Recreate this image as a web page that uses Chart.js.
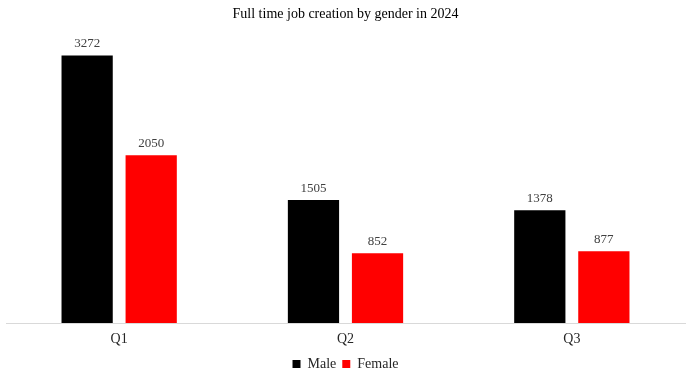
<!DOCTYPE html>
<html>
<head>
<meta charset="utf-8">
<script src="https://cdn.jsdelivr.net/npm/chart.js@4/dist/chart.umd.min.js"></script>
<style>
  html, body { margin: 0; padding: 0; background: #fff; }
  #wrap { width: 691px; height: 375px; }
</style>
</head>
<body>
<div id="wrap"><canvas id="myChart"></canvas></div>
<script>
  const quarters = ['Q1', 'Q2', 'Q3']
  const male = [3272, 1505, 1378]
  const female = [2050, 852, 877]

  const serif = '"Liberation Serif", "DejaVu Serif", serif'

  // values drawn above each bar
  const barLabels = {
    id: 'barLabels',
    afterDatasetsDraw (chart) {
      const ctx = chart.ctx
      ctx.save()
      ctx.font = '13px ' + serif
      ctx.fillStyle = '#404040'
      ctx.textAlign = 'center'
      ctx.textBaseline = 'bottom'
      chart.data.datasets.forEach((ds, i) => {
        chart.getDatasetMeta(i).data.forEach((bar, j) => {
          ctx.fillText(ds.data[j], bar.x, bar.y - 5)
        })
      })
      ctx.restore()
    }
  }

  new Chart(document.getElementById('myChart'), {
    type: 'bar',
    data: {
      labels: quarters,
      datasets: [{
        label: 'Male',
        data: male,
        backgroundColor: '#000000'
      }, {
        label: 'Female',
        data: female,
        backgroundColor: '#ff0000'
      }]
    },
    options: {
      responsive: true,
      maintainAspectRatio: false,
      animation: false,
      categoryPercentage: 0.566,
      barPercentage: 0.8,
      layout: { padding: { left: 6, right: 6, top: 0, bottom: -6 } },
      scales: {
        x: {
          grid: { display: false, drawTicks: false },
          border: { color: '#d9d9d9', width: 1 },
          ticks: { color: '#262626', font: { family: serif, size: 14 }, padding: 8 },
          afterFit: (scale) => { scale.height = 28 }
        },
        y: {
          display: false,
          min: 0,
          max: 3500
        }
      },
      plugins: {
        title: {
          display: true,
          text: 'Full time job creation by gender in 2024',
          color: '#000',
          font: { family: serif, size: 14, weight: 'normal' },
          padding: { top: 6, bottom: 14 }
        },
        legend: {
          position: 'bottom',
          labels: {
            boxWidth: 8,
            boxHeight: 8,
            color: '#262626',
            font: { family: serif, size: 14 },
            padding: 6
          }
        },
        tooltip: { enabled: false }
      }
    },
    plugins: [barLabels]
  })
</script>
</body>
</html>
